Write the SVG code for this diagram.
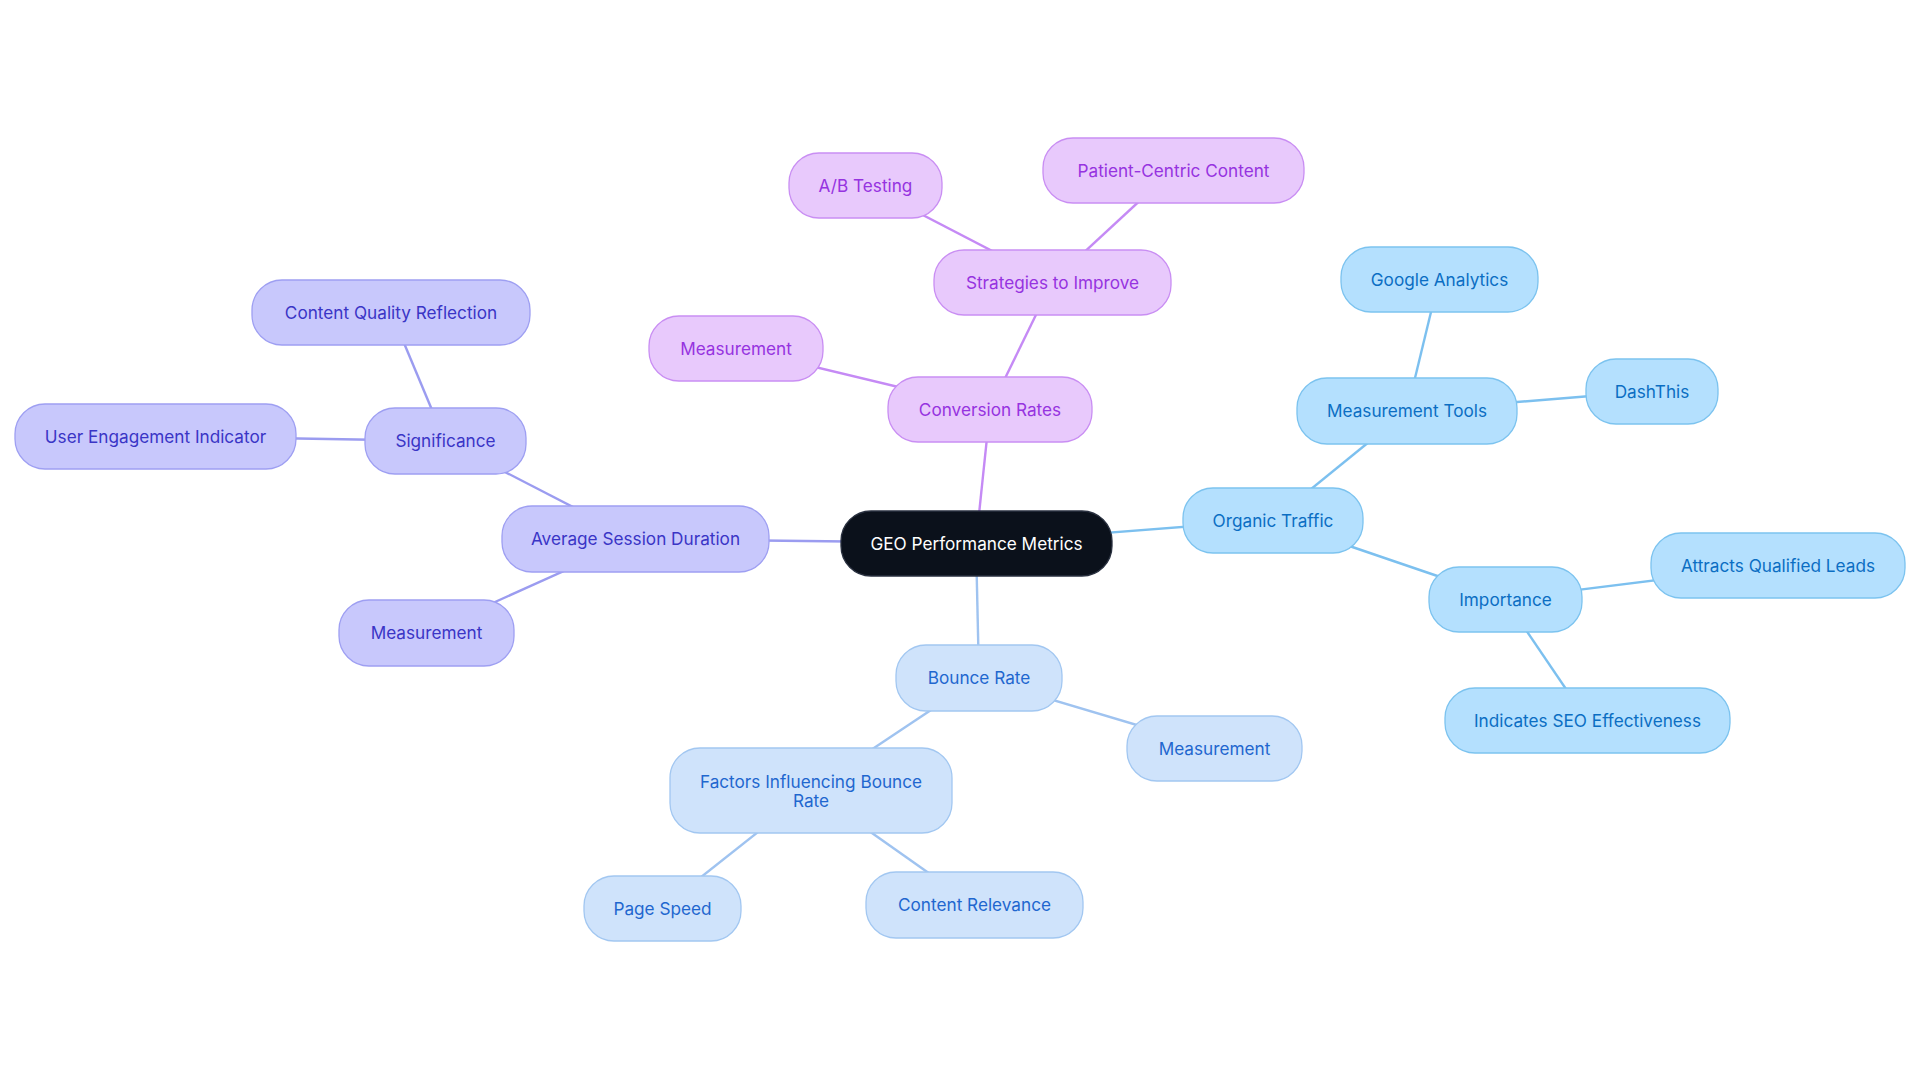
<svg xmlns="http://www.w3.org/2000/svg" width="1920" height="1083" viewBox="0 0 1920 1083">
<style>
text{font-family:Inter,"Noto Sans","Liberation Sans",sans-serif;font-size:17.2px;text-anchor:middle}
.n rect{stroke-width:1.3}
.root rect{fill:#0b111b;stroke:#2a3140}
.root text{fill:#ffffff}
.pu rect{fill:#e8c9fc;stroke:#c98ef3}
.pu text{fill:#9633e0}
.sk rect{fill:#b4e0fe;stroke:#7cc3ef}
.sk text{fill:#0b6ec3}
.lb rect{fill:#cfe3fb;stroke:#a2c7f1}
.lb text{fill:#1f67cf}
.in rect{fill:#c8c8fc;stroke:#9e9ff2}
.in text{fill:#3a35c6}
#edges line{stroke-width:2.4;fill:none}
.epu{stroke:#c58af5}
.esk{stroke:#7cc0ef}
.elb{stroke:#9fc3f0}
.ein{stroke:#9b9cf0}
</style>
<rect width="1920" height="1083" fill="#ffffff"/>
<g id="edges">
<line class="epu" x1="976" y1="543" x2="990" y2="409"/>
<line class="epu" x1="990" y1="409" x2="1052" y2="282"/>
<line class="epu" x1="990" y1="409" x2="736" y2="348"/>
<line class="epu" x1="1052" y1="282" x2="865" y2="185"/>
<line class="epu" x1="1052" y1="282" x2="1173" y2="170"/>
<line class="esk" x1="976" y1="543" x2="1273" y2="520"/>
<line class="esk" x1="1273" y1="520" x2="1407" y2="411"/>
<line class="esk" x1="1273" y1="520" x2="1505" y2="599"/>
<line class="esk" x1="1407" y1="411" x2="1439" y2="279"/>
<line class="esk" x1="1407" y1="411" x2="1652" y2="391"/>
<line class="esk" x1="1505" y1="599" x2="1778" y2="565"/>
<line class="esk" x1="1505" y1="599" x2="1587" y2="720"/>
<line class="elb" x1="976" y1="543" x2="979" y2="678"/>
<line class="elb" x1="979" y1="678" x2="1214" y2="748"/>
<line class="elb" x1="979" y1="678" x2="811" y2="790"/>
<line class="elb" x1="811" y1="790" x2="662" y2="908"/>
<line class="elb" x1="811" y1="790" x2="974" y2="905"/>
<line class="ein" x1="976" y1="543" x2="635" y2="539"/>
<line class="ein" x1="635" y1="539" x2="445" y2="441"/>
<line class="ein" x1="635" y1="539" x2="426" y2="633"/>
<line class="ein" x1="445" y1="441" x2="391" y2="312"/>
<line class="ein" x1="445" y1="441" x2="155" y2="436"/>
</g>
<g id="n-root" class="n root"><rect x="841" y="511" width="271" height="65" rx="30"/><text x="976.5" y="549.5">GEO Performance Metrics</text></g>
<g id="n-conversion" class="n pu"><rect x="888" y="377" width="204" height="65" rx="30"/><text x="990" y="415.5">Conversion Rates</text></g>
<g id="n-strategies" class="n pu"><rect x="934" y="250" width="237" height="65" rx="30"/><text x="1052.5" y="288.5">Strategies to Improve</text></g>
<g id="n-ab" class="n pu"><rect x="789" y="153" width="153" height="65" rx="30"/><text x="865.5" y="191.5">A/B Testing</text></g>
<g id="n-patient" class="n pu"><rect x="1043" y="138" width="261" height="65" rx="30"/><text x="1173.5" y="176.5">Patient-Centric Content</text></g>
<g id="n-meas-p" class="n pu"><rect x="649" y="316" width="174" height="65" rx="30"/><text x="736" y="354.5">Measurement</text></g>
<g id="n-organic" class="n sk"><rect x="1183" y="488" width="180" height="65" rx="30"/><text x="1273" y="526.5">Organic Traffic</text></g>
<g id="n-tools" class="n sk"><rect x="1297" y="378" width="220" height="66" rx="30"/><text x="1407" y="417">Measurement Tools</text></g>
<g id="n-google" class="n sk"><rect x="1341" y="247" width="197" height="65" rx="30"/><text x="1439.5" y="285.5">Google Analytics</text></g>
<g id="n-dashthis" class="n sk"><rect x="1586" y="359" width="132" height="65" rx="30"/><text x="1652" y="397.5">DashThis</text></g>
<g id="n-importance" class="n sk"><rect x="1429" y="567" width="153" height="65" rx="30"/><text x="1505.5" y="605.5">Importance</text></g>
<g id="n-attracts" class="n sk"><rect x="1651" y="533" width="254" height="65" rx="30"/><text x="1778" y="571.5">Attracts Qualified Leads</text></g>
<g id="n-indicates" class="n sk"><rect x="1445" y="688" width="285" height="65" rx="30"/><text x="1587.5" y="726.5">Indicates SEO Effectiveness</text></g>
<g id="n-bounce" class="n lb"><rect x="896" y="645" width="166" height="66" rx="30"/><text x="979" y="684">Bounce Rate</text></g>
<g id="n-meas-lb" class="n lb"><rect x="1127" y="716" width="175" height="65" rx="30"/><text x="1214.5" y="754.5">Measurement</text></g>
<g id="n-factors" class="n lb"><rect x="670" y="748" width="282" height="85" rx="30"/><text x="811" y="788">Factors Influencing Bounce</text><text x="811" y="807">Rate</text></g>
<g id="n-pagespeed" class="n lb"><rect x="584" y="876" width="157" height="65" rx="30"/><text x="662.5" y="914.5">Page Speed</text></g>
<g id="n-relevance" class="n lb"><rect x="866" y="872" width="217" height="66" rx="30"/><text x="974.5" y="911">Content Relevance</text></g>
<g id="n-avg" class="n in"><rect x="502" y="506" width="267" height="66" rx="30"/><text x="635.5" y="545">Average Session Duration</text></g>
<g id="n-significance" class="n in"><rect x="365" y="408" width="161" height="66" rx="30"/><text x="445.5" y="447">Significance</text></g>
<g id="n-meas-i" class="n in"><rect x="339" y="600" width="175" height="66" rx="30"/><text x="426.5" y="639">Measurement</text></g>
<g id="n-quality" class="n in"><rect x="252" y="280" width="278" height="65" rx="30"/><text x="391" y="318.5">Content Quality Reflection</text></g>
<g id="n-engagement" class="n in"><rect x="15" y="404" width="281" height="65" rx="30"/><text x="155.5" y="442.5">User Engagement Indicator</text></g>
</svg>
